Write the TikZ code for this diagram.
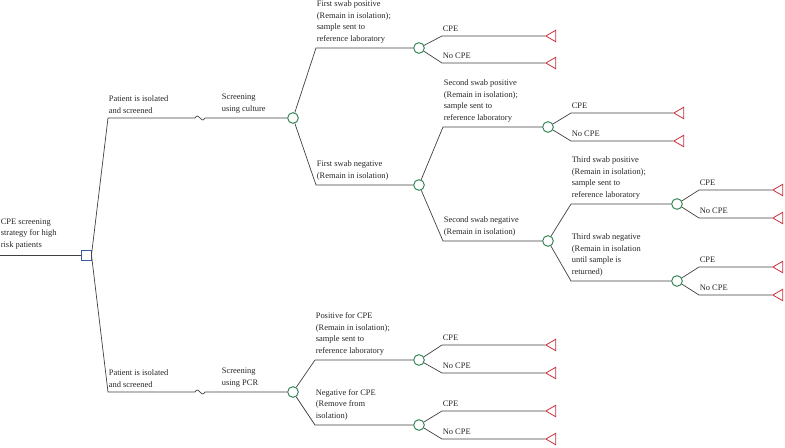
\documentclass[tikz,border=0pt]{standalone}
\usepackage{fontspec}
\setmainfont{Liberation Serif}
\usetikzlibrary{shapes.geometric,positioning}
\definecolor{chancegreen}{RGB}{46,130,80}
\definecolor{termred}{RGB}{200,50,60}
\definecolor{decblue}{RGB}{60,90,160}
\tikzset{
  branch/.style={draw=black!75, line width=0.6pt},
  chance/.style={circle, draw=chancegreen, line width=0.8pt, fill=white, minimum size=0.32cm, inner sep=0pt},
  decision/.style={rectangle, draw=decblue, line width=0.8pt, fill=white, minimum size=0.3cm, inner sep=0pt},
  outcome/.style={isosceles triangle, shape border rotate=180, isosceles triangle apex angle=60,
    draw=termred, line width=0.7pt, minimum size=0.3cm, inner sep=0pt, anchor=apex},
  lbl/.style={anchor=south west, align=left, inner sep=0.5pt, text=black!85,
    font=\fontsize{7.2}{9.8}\selectfont}
}

\begin{document}
\begin{tikzpicture}[x=0.03cm,y=-0.03cm]
\useasboundingbox (0,0) rectangle (785,447);

% Root and decision
\coordinate (r0) at (0,255);
\node[decision] (d) at (86,255) {};
\draw[branch] (r0) -- (d);
\node[lbl] (lroot) at (0,250) {CPE screening\\strategy for high\\risk patients};

% Upper arm: culture
\coordinate (u1) at (108,118);
\coordinate (w1a) at (195,118);
\coordinate (w1b) at (205,118);
\node[chance] (c1) at (293,118) {};
\draw[branch] (d.east) -- (u1) -- (w1a) .. controls +(4,-7) and +(-4,7) .. (w1b) -- (c1);
\node[lbl] at (108,114) {Patient is isolated\\and screened};
\node[lbl] at (221,114) {Screening\\using culture};

% First swab
\coordinate (e11) at (316,48);
\coordinate (e12) at (316,185);
\node[chance] (c11) at (419,48) {};
\node[chance] (c12) at (419,185) {};
\draw[branch] (c1) -- (e11) -- (c11);
\draw[branch] (c1) -- (e12) -- (c12);
\node[lbl] at (316,44) {First swab positive\\(Remain in isolation);\\sample sent to\\reference laboratory};
\node[lbl] at (316,181) {First swab negative\\(Remain in isolation)};

% First swab positive outcomes
\coordinate (e111) at (442,36);
\coordinate (e112) at (442,63);
\node[outcome] (t111) at (545,36) {};
\node[outcome] (t112) at (545,63) {};
\draw[branch] (c11) -- (e111) -- (t111.apex);
\draw[branch] (c11) -- (e112) -- (t112.apex);
\node[lbl] at (442,32) {CPE};
\node[lbl] at (442,59) {No CPE};

% Second swab
\coordinate (e121) at (443,127);
\coordinate (e122) at (443,241);
\node[chance] (c121) at (548,127) {};
\node[chance] (c122) at (548,241) {};
\draw[branch] (c12) -- (e121) -- (c121);
\draw[branch] (c12) -- (e122) -- (c122);
\node[lbl] at (443,123) {Second swab positive\\(Remain in isolation);\\sample sent to\\reference laboratory};
\node[lbl] at (443,237) {Second swab negative\\(Remain in isolation)};

\coordinate (e1211) at (571,113);
\coordinate (e1212) at (571,141);
\node[outcome] (t1211) at (673,113) {};
\node[outcome] (t1212) at (673,141) {};
\draw[branch] (c121) -- (e1211) -- (t1211.apex);
\draw[branch] (c121) -- (e1212) -- (t1212.apex);
\node[lbl] at (571,109) {CPE};
\node[lbl] at (571,137) {No CPE};

% Third swab
\coordinate (e1221) at (571,204);
\coordinate (e1222) at (571,281);
\node[chance] (c1221) at (677,204) {};
\node[chance] (c1222) at (677,281) {};
\draw[branch] (c122) -- (e1221) -- (c1221);
\draw[branch] (c122) -- (e1222) -- (c1222);
\node[lbl] at (571,200) {Third swab positive\\(Remain in isolation);\\sample sent to\\reference laboratory};
\node[lbl] at (571,277) {Third swab negative\\(Remain in isolation\\until sample is\\returned)};

\coordinate (e12211) at (699,190);
\coordinate (e12212) at (699,218);
\node[outcome] (t12211) at (772,190) {};
\node[outcome] (t12212) at (772,218) {};
\draw[branch] (c1221) -- (e12211) -- (t12211.apex);
\draw[branch] (c1221) -- (e12212) -- (t12212.apex);
\node[lbl] at (699,186) {CPE};
\node[lbl] at (699,214) {No CPE};

\coordinate (e12221) at (699,267);
\coordinate (e12222) at (699,295);
\node[outcome] (t12221) at (772,267) {};
\node[outcome] (t12222) at (772,295) {};
\draw[branch] (c1222) -- (e12221) -- (t12221.apex);
\draw[branch] (c1222) -- (e12222) -- (t12222.apex);
\node[lbl] at (699,263) {CPE};
\node[lbl] at (699,291) {No CPE};

% Lower arm: PCR
\coordinate (u2) at (108,392);
\coordinate (w2a) at (195,392);
\coordinate (w2b) at (205,392);
\node[chance] (c2) at (293,392) {};
\draw[branch] (d.east) -- (u2) -- (w2a) .. controls +(4,-7) and +(-4,7) .. (w2b) -- (c2);
\node[lbl] at (108,388) {Patient is isolated\\and screened};
\node[lbl] at (221,388) {Screening\\using PCR};

\coordinate (e21) at (315,360);
\coordinate (e22) at (315,425);
\node[chance] (c21) at (419,360) {};
\node[chance] (c22) at (419,425) {};
\draw[branch] (c2) -- (e21) -- (c21);
\draw[branch] (c2) -- (e22) -- (c22);
\node[lbl] at (315,356) {Positive for CPE\\(Remain in isolation);\\sample sent to\\reference laboratory};
\node[lbl] at (315,421) {Negative for CPE\\(Remove from\\isolation)};

\coordinate (e211) at (442,345);
\coordinate (e212) at (442,373);
\node[outcome] (t211) at (545,345) {};
\node[outcome] (t212) at (545,373) {};
\draw[branch] (c21) -- (e211) -- (t211.apex);
\draw[branch] (c21) -- (e212) -- (t212.apex);
\node[lbl] at (442,341) {CPE};
\node[lbl] at (442,369) {No CPE};

\coordinate (e221) at (442,411);
\coordinate (e222) at (442,439);
\node[outcome] (t221) at (545,411) {};
\node[outcome] (t222) at (545,439) {};
\draw[branch] (c22) -- (e221) -- (t221.apex);
\draw[branch] (c22) -- (e222) -- (t222.apex);
\node[lbl] at (442,407) {CPE};
\node[lbl] at (442,435) {No CPE};
\end{tikzpicture}
\end{document}
